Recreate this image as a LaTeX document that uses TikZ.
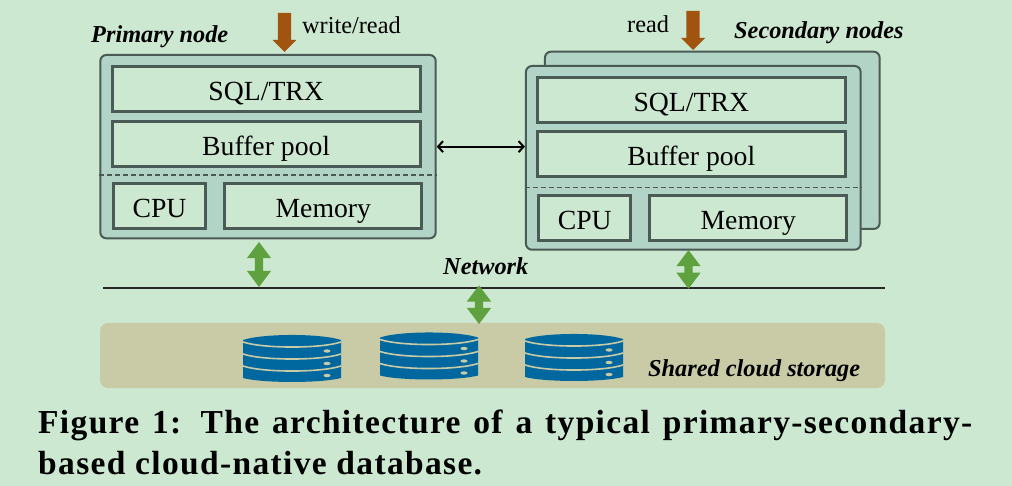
\documentclass[tikz,border=0pt]{standalone}
\usepackage{fontspec}
\setmainfont{Liberation Serif}
\newfontfamily\capfont{Liberation Serif}[LetterSpace=4]
\usetikzlibrary{arrows.meta,shapes.arrows}
\definecolor{bgcol}{HTML}{CCE8D0}
\definecolor{nodecol}{HTML}{B2D4C7}
\definecolor{linecol}{HTML}{4A5A54}
\definecolor{storecol}{HTML}{C8CBA6}
\definecolor{diskcol}{HTML}{00689F}
\definecolor{browncol}{HTML}{A0540F}
\definecolor{greencol}{HTML}{5FA03F}
\begin{document}
\begin{tikzpicture}
[
x=1pt,y=-1pt,
outer/.style={rectangle, rounded corners=6pt, draw=linecol, fill=nodecol, line width=2pt},
block/.style={rectangle, draw=linecol, fill=bgcol, line width=2.8pt, minimum height=45pt, text depth=0pt, text height=23pt, inner sep=0pt, font=\fontsize{27.7}{30}\selectfont},
wide/.style={block, minimum width=308pt},
cpu/.style={block, minimum width=92pt},
mem/.style={block, minimum width=197pt},
txt/.style={inner sep=0pt, anchor=base west, font=\fontsize{24.3}{28}\selectfont},
title/.style={inner sep=0pt, anchor=base west, font=\fontsize{24.3}{28}\selectfont\bfseries\itshape},
down/.style={single arrow, fill=browncol, shape border rotate=270, minimum height=39pt, inner sep=6.5pt, single arrow head extend=5.5pt, outer sep=0pt, anchor=tip},
both/.style={double arrow, fill=greencol, shape border rotate=90, inner sep=4pt, double arrow head extend=8pt, double arrow tip angle=74, outer sep=0pt}
]
\useasboundingbox (0,0) rectangle (1012,486);
\fill[bgcol] (0,0) rectangle (1012,486);

% primary
\node (primary) [outer, minimum width=335.4pt, minimum height=183.3pt] at (268,146.65) {};
\node (sql1) [wide] at (266.2,89) {SQL/TRX};
\node (buf1) [wide] at (266.2,143.8) {Buffer pool};
\node (cpu1) [cpu] at (159.5,205.8) {CPU};
\node (mem1) [mem] at (323.3,205.8) {Memory};
\draw[linecol, line width=1.5pt, dash pattern=on 5pt off 3pt] (primary.west |- 0,175) -- (primary.east |- 0,175);

% secondary
\node (back) [outer, minimum width=334.7pt, minimum height=177.3pt] at (712.3,140.35) {};
\node (secondary) [outer, minimum width=334.7pt, minimum height=183.7pt] at (693.3,157.85) {};
\node (sql2) [wide] at (691.3,100) {SQL/TRX};
\node (buf2) [wide] at (691.3,153.7) {Buffer pool};
\node (cpu2) [cpu] at (584.8,218.3) {CPU};
\node (mem2) [mem] at (748.3,218.3) {Memory};
\draw[linecol, line width=1.5pt, dash pattern=on 5pt off 3pt] (secondary.west |- 0,187.5) -- (secondary.east |- 0,187.5);

\draw[{Straight Barb[length=5pt,width=11pt]}-{Straight Barb[length=5pt,width=11pt]}, line width=2pt] (primary.east) -- (primary.east -| secondary.west);

% storage
\node (storage) [rectangle, rounded corners=8pt, fill=storecol, minimum width=785pt, minimum height=65pt, inner sep=0pt] at (492.5,355.5) {};
\foreach \xa/\ya in {243/335,380/332.5,525/334} {
\begin{scope}[shift={(\xa,\ya)}]
\fill[diskcol] (0,5) -- (0,43) .. controls (20,48.3) and (78,48.3) .. (98,43) -- (98,5) .. controls (78,-1.7) and (20,-1.7) .. (0,5) -- cycle;
\foreach \ys in {7,19,31} {
\draw[storecol, line width=1.6pt] (0,\ys) .. controls (20,\ys+6.7) and (78,\ys+6.7) .. (98,\ys);
}
\foreach \ys in {16,28.5,40.5} {
\fill[storecol] (84,\ys) ellipse [x radius=3.5pt, y radius=1.7pt];
}
\end{scope}
}

% network
\coordinate (netl) at (103,288);
\coordinate (netr) at (885,288);
\draw[black!85, line width=1.5pt] (netl) -- (netr);

\node (a1) [both, minimum height=45pt] at (259,264.5) {};
\node (a2) [both, minimum height=38.7pt] at (688.5,269.4) {};
\node (a3) [both, minimum height=38.7pt] at (479,304.7) {};
\node (w1) [down] at (284.5,52) {};
\node (w2) [down] at (693,50) {};

\node (wr) [txt] at (302,33.5) {write/read};
\node (rd) [txt] at (627,33) {read};
\node (t1) [title] at (91,43) {Primary node};
\node (t2) [title] at (734,39) {Secondary nodes};
\node (t3) [title] at (443,275) {Network};
\node (t4) [title] at (648,376) {Shared cloud storage};

\node (caption) [inner sep=0pt, anchor=north west, text width=934pt, align=justify, font=\fontsize{33.5}{41}\capfont\bfseries] at (38,409.5) {Figure 1: The architecture of a typical primary-secondary-\linebreak based cloud-native database.};
\end{tikzpicture}
\end{document}
